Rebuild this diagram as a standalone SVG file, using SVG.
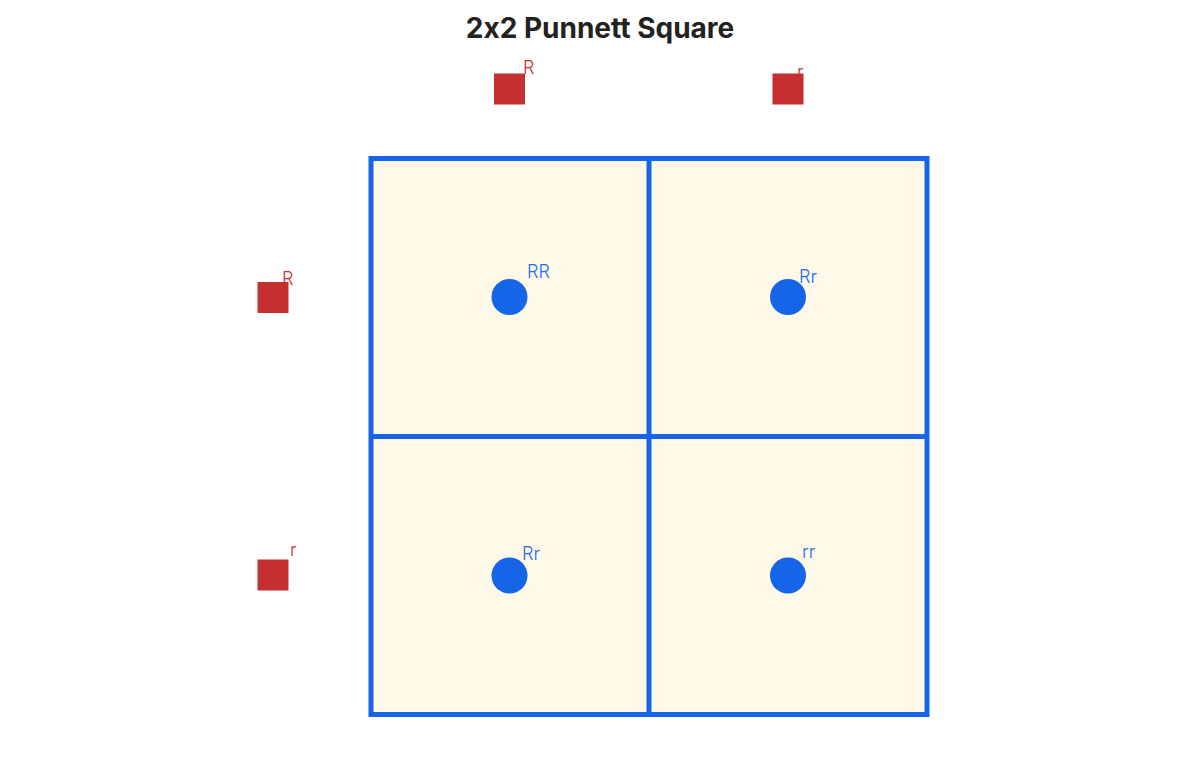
<svg xmlns="http://www.w3.org/2000/svg" width="1200" height="763" viewBox="0 0 1200 763">
<style>
.cell{fill:#fdf8e7;stroke:none}
.grid{fill:none;stroke:#1565e8;stroke-width:5}
.dot{fill:#1565e8}
.gene{fill:#c62f2f}
.glbl{font-family:Inter,"Liberation Sans",sans-serif;font-size:18px;font-weight:300;fill:#c62f2f}
.clbl{font-family:Inter,"Liberation Sans",sans-serif;font-size:18px;font-weight:300;fill:#1f6de8}
.title{font-family:Inter,"Liberation Sans",sans-serif;font-size:28px;font-weight:700;fill:#222;font-feature-settings:"calt" 0}
</style>
<rect width="1200" height="763" fill="#ffffff"/>
<text class="title" x="600" y="38" text-anchor="middle">2x2 Punnett Square</text>

<g id="cell-RR"><rect class="cell" x="371" y="158.5" width="278" height="278"/></g>
<g id="cell-Rr-1"><rect class="cell" x="649" y="158.5" width="278" height="278"/></g>
<g id="cell-Rr-2"><rect class="cell" x="371" y="436.5" width="278" height="278"/></g>
<g id="cell-rr"><rect class="cell" x="649" y="436.5" width="278" height="278"/></g>

<g id="grid-lines">
<rect class="grid" x="371" y="158.5" width="556" height="556"/>
<line class="grid" x1="649" y1="158.5" x2="649" y2="714.5"/>
<line class="grid" x1="371" y1="436.5" x2="927" y2="436.5"/>
</g>

<g id="offspring-RR"><text class="clbl" x="527" y="278">RR</text><circle class="dot" cx="509.5" cy="297" r="18"/></g>
<g id="offspring-Rr-1"><text class="clbl" x="799" y="283">Rr</text><circle class="dot" cx="788" cy="297" r="18"/></g>
<g id="offspring-Rr-2"><text class="clbl" x="522" y="560">Rr</text><circle class="dot" cx="509.5" cy="575.5" r="18"/></g>
<g id="offspring-rr"><text class="clbl" x="802" y="558">rr</text><circle class="dot" cx="788" cy="575.5" r="18"/></g>

<g id="parent-top-R"><text class="glbl" x="523" y="74">R</text><rect class="gene" x="494" y="73.5" width="31" height="31"/></g>
<g id="parent-top-r"><text class="glbl" x="797" y="78">r</text><rect class="gene" x="772.5" y="73.5" width="31" height="31"/></g>
<g id="parent-left-R"><text class="glbl" x="282" y="285">R</text><rect class="gene" x="257.5" y="282" width="31" height="31"/></g>
<g id="parent-left-r"><text class="glbl" x="290" y="556">r</text><rect class="gene" x="257.5" y="559.5" width="31" height="31"/></g>
</svg>
